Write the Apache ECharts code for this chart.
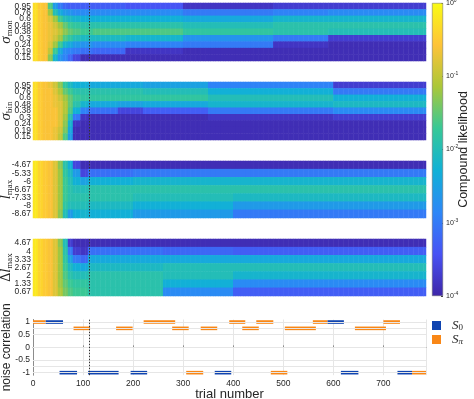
<!DOCTYPE html>
<html>
<head>
<meta charset="utf-8">
<script src="https://cdn.jsdelivr.net/npm/echarts@6/dist/echarts.min.js"></script>
<style>
  html, body { margin: 0; padding: 0; background: #fff; }
  #chart { width: 474px; height: 399px; }
</style>
</head>
<body>
<div id="chart"></div>
<script>
// HEATMAP COLUMNS (trial bins)
const binWidth = 5;
const trialMax = 785;
const markTrial = 112;

const sigmaLabels = ["0.95", "0.76", "0.6", "0.48", "0.38", "0.3", "0.24", "0.19", "0.15"];
const lmaxLabels = ["-4.67", "-5.33", "-6", "-6.67", "-7.33", "-8", "-8.67"];
const dlmaxLabels = ["4.67", "4", "3.33", "2.67", "2", "1.33", "0.67"];

// log10 compound likelihood: one row per parameter value, one value per segment start
const monStarts = [0, 10, 20, 30, 40, 50, 60, 70, 80, 95, 120, 185, 300, 480, 590];
const monRows = [
  [-0.3, -0.5, -0.6, -1.6, -2.6, -3.0, -3.2, -3.3, -3.3, -3.3, -3.3, -3.4, -3.8, -3.7, -3.7],
  [-0.3, -0.5, -0.6, -1.2, -2.0, -2.4, -2.6, -2.7, -2.8, -2.8, -2.8, -2.8, -3.0, -2.9, -2.8],
  [-0.3, -0.5, -0.6, -0.8, -1.2, -1.7, -2.0, -2.1, -2.2, -2.3, -2.3, -2.3, -2.4, -2.2, -2.2],
  [-0.3, -0.5, -0.6, -0.7, -0.9, -1.2, -1.5, -1.7, -1.8, -1.9, -1.9, -1.9, -2.0, -1.9, -1.9],
  [-0.3, -0.5, -0.6, -0.7, -0.8, -1.0, -1.3, -1.5, -1.6, -1.7, -1.6, -1.6, -1.8, -1.9, -2.0],
  [-0.3, -0.5, -0.6, -0.7, -0.9, -1.2, -1.6, -1.8, -2.0, -2.1, -2.1, -2.2, -2.7, -3.0, -3.7],
  [-0.3, -0.5, -0.6, -0.8, -1.2, -1.7, -2.2, -2.4, -2.6, -2.7, -2.8, -2.9, -3.0, -3.8, -3.9],
  [-0.3, -0.5, -0.6, -1.0, -1.7, -2.4, -2.8, -2.9, -3.0, -3.1, -3.2, -3.8, -3.9, -3.9, -3.9],
  [-0.3, -0.5, -0.6, -1.3, -2.2, -2.7, -2.9, -3.2, -3.6, -3.9, -3.9, -3.9, -3.9, -3.9, -3.9],
];

const binStarts2 = [0, 10, 20, 30, 40, 50, 60, 70, 80, 95, 110, 170, 220, 350, 600];
const binRows = [
  [-0.3, -0.5, -0.6, -0.7, -0.9, -1.3, -1.8, -2.1, -2.3, -2.3, -2.4, -2.4, -2.5, -2.9, -3.7],
  [-0.3, -0.5, -0.6, -0.6, -0.8, -1.1, -1.5, -1.7, -1.9, -1.9, -1.9, -1.9, -2.0, -2.3, -3.0],
  [-0.3, -0.5, -0.6, -0.6, -0.7, -0.9, -1.2, -1.5, -1.7, -1.8, -1.8, -1.8, -1.8, -2.0, -2.3],
  [-0.3, -0.5, -0.6, -0.6, -0.7, -0.8, -1.1, -1.5, -1.9, -2.2, -2.4, -2.5, -2.4, -2.2, -2.1],
  [-0.3, -0.5, -0.6, -0.6, -0.6, -0.8, -1.1, -1.6, -2.3, -2.9, -3.1, -3.6, -3.3, -3.0, -2.8],
  [-0.3, -0.5, -0.6, -0.6, -0.6, -0.8, -1.2, -1.9, -3.0, -3.8, -3.9, -3.9, -3.9, -3.8, -3.7],
  [-0.3, -0.5, -0.6, -0.6, -0.6, -0.8, -1.3, -2.2, -3.8, -3.9, -3.9, -3.9, -3.9, -3.9, -3.9],
  [-0.3, -0.5, -0.6, -0.6, -0.7, -0.9, -1.4, -2.4, -3.9, -3.9, -3.9, -3.9, -3.9, -3.9, -3.9],
  [-0.3, -0.5, -0.6, -0.6, -0.7, -1.0, -1.6, -2.6, -3.9, -3.9, -3.9, -3.9, -3.9, -3.9, -3.9],
];

const lmaxStarts = [0, 10, 20, 30, 40, 50, 60, 70, 80, 95, 110, 200, 400];
const lmaxRows = [
  [-0.2, -0.4, -0.5, -0.6, -0.8, -1.3, -1.9, -2.3, -3.6, -3.9, -3.9, -3.9, -3.9],
  [-0.2, -0.4, -0.5, -0.6, -0.8, -1.2, -1.8, -2.1, -2.6, -3.6, -3.1, -3.0, -3.0],
  [-0.2, -0.4, -0.5, -0.6, -0.8, -1.2, -1.7, -2.0, -2.3, -2.5, -2.3, -2.2, -2.2],
  [-0.2, -0.4, -0.5, -0.6, -0.8, -1.2, -1.7, -1.9, -2.0, -2.0, -1.9, -1.9, -1.9],
  [-0.2, -0.4, -0.5, -0.6, -0.8, -1.2, -1.7, -1.9, -1.9, -1.9, -1.9, -2.0, -2.1],
  [-0.2, -0.4, -0.5, -0.6, -0.8, -1.2, -1.8, -2.0, -2.0, -2.0, -2.1, -2.3, -2.6],
  [-0.2, -0.4, -0.5, -0.6, -0.8, -1.3, -2.0, -2.6, -2.3, -2.2, -2.3, -2.6, -3.0],
];

const dlmaxStarts = [0, 10, 20, 30, 40, 50, 60, 70, 80, 95, 110, 260, 400];
const dlmaxRows = [
  [-0.2, -0.4, -0.5, -0.6, -0.8, -1.3, -2.0, -3.7, -3.9, -3.9, -3.9, -3.9, -3.9],
  [-0.2, -0.4, -0.5, -0.6, -0.8, -1.2, -1.9, -3.0, -3.7, -3.8, -3.1, -3.2, -3.3],
  [-0.2, -0.4, -0.5, -0.6, -0.8, -1.2, -1.8, -2.5, -3.0, -3.2, -2.4, -2.4, -2.4],
  [-0.2, -0.4, -0.5, -0.6, -0.8, -1.2, -1.7, -2.1, -2.3, -2.4, -2.1, -2.0, -2.0],
  [-0.2, -0.4, -0.5, -0.6, -0.8, -1.2, -1.6, -1.9, -2.0, -2.0, -1.9, -2.0, -2.2],
  [-0.2, -0.4, -0.5, -0.6, -0.8, -1.2, -1.5, -1.7, -1.8, -1.8, -1.9, -2.3, -2.8],
  [-0.2, -0.4, -0.5, -0.6, -0.8, -1.1, -1.4, -1.6, -1.7, -1.7, -1.9, -2.8, -3.3],
];

// NOISE CORRELATION: [start trial, end trial, correlation]
const corrTicks = [1, 0.75, 0.5, 0, -0.5, -0.75, -1];
const s0Blocks = [
  [25, 60, 1], [53, 88, -1], [110, 171, -1], [195, 228, -1], [363, 396, -1],
  [588, 621, 1], [615, 650, -1], [728, 757, -1],
];
const sPiBlocks = [
  [0, 25, 1], [81, 114, 0.75], [166, 199, 0.75], [221, 284, 1], [278, 311, 0.75],
  [306, 340, -1], [335, 368, 0.75], [392, 424, 1], [418, 451, 0.75], [446, 480, 1],
  [475, 508, -1], [503, 565, 0.75], [559, 588, 1], [643, 705, 0.75], [700, 733, 1],
  [757, 785, -1],
];

const colorbarTicks = [0, -1, -2, -3, -4];
const parula = ["#3E26A8", "#4852F4", "#2D87F7", "#11B1D6", "#37C897", "#ABC739", "#FEC338", "#F9FB14"];

const textColor = "#262626";
const s0Color = "#0F44B0";
const sPiColor = "#F98716";

let binStarts = [];
for (let t = 0; t < trialMax; t += binWidth) binStarts.push(t);

function toCells(starts, rows) {
  let cells = [];
  rows.forEach((row, r) => {
    binStarts.forEach((t, c) => {
      let k = 0;
      while (k + 1 < starts.length && starts[k + 1] <= t) k++;
      cells.push([c, r, row[k]]);
    });
  });
  return cells;
}

const greekRich = {
  g: { fontFamily: "Liberation Serif", fontStyle: "italic", fontSize: 15, lineHeight: 16, color: textColor },
  d: { fontFamily: "Liberation Serif", fontSize: 14, lineHeight: 16, color: textColor },
  sub: { fontFamily: "Liberation Serif", fontSize: 9, lineHeight: 12, verticalAlign: "bottom", color: textColor },
};

const panels = [
  { top: 3, height: 58, labels: sigmaLabels, name: "{g|σ}{sub|mon}", cells: toCells(monStarts, monRows) },
  { top: 82, height: 58, labels: sigmaLabels, name: "{g|σ}{sub|bin}", cells: toCells(binStarts2, binRows) },
  { top: 161, height: 57, labels: lmaxLabels, name: "{g|l}{sub|max}", cells: toCells(lmaxStarts, lmaxRows) },
  { top: 239, height: 57, labels: dlmaxLabels, name: "{d|Δ}{g|l}{sub|max}", cells: toCells(dlmaxStarts, dlmaxRows) },
];

const dottedLine = { type: [1.5, 1.5], color: "#333", width: 1 };

let grid = [];
let xAxis = [];
let yAxis = [];
let series = [];

panels.forEach((p, i) => {
  grid.push({ left: 33, width: 393, top: p.top, height: p.height, outerBoundsMode: "none" });
  xAxis.push({ gridIndex: i, type: "category", data: binStarts, show: false });
  yAxis.push({
    gridIndex: i,
    type: "category",
    data: p.labels,
    inverse: true,
    axisLine: { show: false },
    axisTick: { show: false },
    axisLabel: { interval: 0, hideOverlap: false, fontSize: 8.5, color: textColor, fontFamily: "Liberation Sans", margin: 2 },
    name: p.name,
    nameLocation: "middle",
    nameRotate: 90,
    nameGap: 19,
    nameMoveOverlap: false,
    nameTextStyle: { verticalAlign: "bottom", rich: greekRich },
  });
  series.push({
    type: "heatmap",
    xAxisIndex: i,
    yAxisIndex: i,
    data: p.cells,
    itemStyle: { borderWidth: 0 },
    markLine: {
      silent: true,
      symbol: ["none", "none"],
      label: { show: false },
      lineStyle: dottedLine,
      data: [{ xAxis: Math.round(markTrial / binWidth) }],
    },
  });
});

// noise correlation panel
grid.push({ left: 33, width: 393, top: 319.5, height: 55.7, outerBoundsMode: "none" });
xAxis.push({
  gridIndex: 4,
  type: "value",
  min: 0,
  max: trialMax,
  interval: 100,
  axisLine: { show: true, lineStyle: { color: "#8c8c8c" } },
  axisTick: { show: true, inside: true, length: 2, lineStyle: { color: "#8c8c8c" } },
  axisLabel: { fontSize: 8.5, color: textColor, fontFamily: "Liberation Sans", margin: 4, showMaxLabel: false },
  splitLine: { show: true, lineStyle: { color: "#e6e6e6" } },
  name: "trial number",
  nameLocation: "middle",
  nameGap: 13,
  nameMoveOverlap: false,
  nameTextStyle: { fontSize: 13, color: textColor, fontFamily: "Liberation Sans", verticalAlign: "top" },
});
yAxis.push({
  gridIndex: 4,
  type: "value",
  min: -1.1,
  max: 1.1,
  axisLine: { show: true, lineStyle: { color: "#8c8c8c" } },
  axisTick: { show: true, inside: true, length: 2, customValues: corrTicks, lineStyle: { color: "#8c8c8c" } },
  axisLabel: {
    fontSize: 8.5,
    color: textColor,
    fontFamily: "Liberation Sans",
    margin: 3,
    customValues: corrTicks,
    hideOverlap: false,
    showMinLabel: true,
    showMaxLabel: true,
  },
  splitLine: { show: false },
  name: "noise correlation",
  nameLocation: "middle",
  nameRotate: 90,
  nameGap: 20,
  nameMoveOverlap: false,
  nameTextStyle: { fontSize: 12, color: textColor, fontFamily: "Liberation Sans" },
});

// colorbar
grid.push({ left: 432, width: 11, top: 3, height: 293, outerBoundsMode: "none" });
xAxis.push({ gridIndex: 5, type: "category", data: ["cb"], show: false });
yAxis.push({
  gridIndex: 5,
  type: "value",
  position: "right",
  min: -4,
  max: 0,
  interval: 1,
  axisLine: { show: false },
  axisTick: { show: true, inside: true, length: 2, lineStyle: { color: "#444" } },
  splitLine: { show: false },
  axisLabel: {
    margin: 3,
    formatter: (v) => "{b|10}{s|" + v + "}",
    rich: {
      b: { fontSize: 7, lineHeight: 10, color: textColor, fontFamily: "Liberation Sans" },
      s: { fontSize: 5, lineHeight: 5, verticalAlign: "top", color: textColor, fontFamily: "Liberation Sans" },
    },
  },
  name: "Compound likelihood",
  nameLocation: "middle",
  nameRotate: 90,
  nameGap: 14,
  nameMoveOverlap: false,
  nameTextStyle: { fontSize: 12.5, color: textColor, fontFamily: "Liberation Sans", verticalAlign: "top" },
});

series.push({
  type: "bar",
  xAxisIndex: 5,
  yAxisIndex: 5,
  data: [colorbarTicks[colorbarTicks.length - 1]],
  barWidth: "100%",
  silent: true,
  itemStyle: {
    borderColor: "#666",
    borderWidth: 0.5,
    color: new echarts.graphic.LinearGradient(
      0, 0, 0, 1,
      parula.slice().reverse().map((c, i) => ({ offset: i / (parula.length - 1), color: c }))
    ),
  },
});

// grid lines + dotted marker for the bottom panel
series.push({
  type: "line",
  xAxisIndex: 4,
  yAxisIndex: 4,
  data: [],
  z: 1,
  markLine: {
    silent: true,
    symbol: ["none", "none"],
    label: { show: false },
    data: corrTicks
      .map((v) => ({ yAxis: v, lineStyle: { color: "#e6e6e6", type: "solid", width: 1 } }))
      .concat([{ xAxis: markTrial, lineStyle: dottedLine }]),
  },
});

function blockItem(params, api) {
  const start = api.coord([api.value(0), api.value(2)]);
  const end = api.coord([api.value(1), api.value(2)]);
  return {
    type: "rect",
    shape: { x: start[0], y: start[1] - 1.8, width: end[0] - start[0], height: 3.6 },
    style: api.style(),
  };
}

series.push({
  name: "S0",
  type: "custom",
  xAxisIndex: 4,
  yAxisIndex: 4,
  z: 3,
  renderItem: blockItem,
  encode: { x: [0, 1], y: 2 },
  itemStyle: { color: s0Color },
  data: s0Blocks,
});
series.push({
  name: "Spi",
  type: "custom",
  xAxisIndex: 4,
  yAxisIndex: 4,
  z: 3,
  renderItem: blockItem,
  encode: { x: [0, 1], y: 2 },
  itemStyle: { color: sPiColor },
  data: sPiBlocks,
});

let chart = echarts.init(document.getElementById("chart"), null, { renderer: "canvas" });

chart.setOption({
  animation: false,
  backgroundColor: "#fff",
  grid: grid,
  xAxis: xAxis,
  yAxis: yAxis,
  visualMap: {
    type: "continuous",
    show: false,
    min: -4,
    max: 0,
    dimension: 2,
    seriesIndex: [0, 1, 2, 3],
    inRange: { color: parula },
  },
  legend: {
    orient: "vertical",
    left: 432,
    top: 319,
    padding: 0,
    itemWidth: 9,
    itemHeight: 9,
    itemGap: 1,
    icon: "rect",
    data: ["S0", "Spi"],
    formatter: (name) => (name === "S0" ? "{i|S}{sub|0}" : "{i|S}{sp|π}"),
    textStyle: {
      rich: {
        i: { fontFamily: "Liberation Serif", fontStyle: "italic", fontSize: 13, lineHeight: 13, padding: [0, 0, 0, 6], color: textColor },
        sub: { fontFamily: "Liberation Serif", fontSize: 9, lineHeight: 9, verticalAlign: "bottom", color: textColor },
        sp: { fontFamily: "Liberation Serif", fontStyle: "italic", fontSize: 9, lineHeight: 9, verticalAlign: "bottom", color: textColor },
      },
    },
  },
  series: series,
});
</script>
</body>
</html>
